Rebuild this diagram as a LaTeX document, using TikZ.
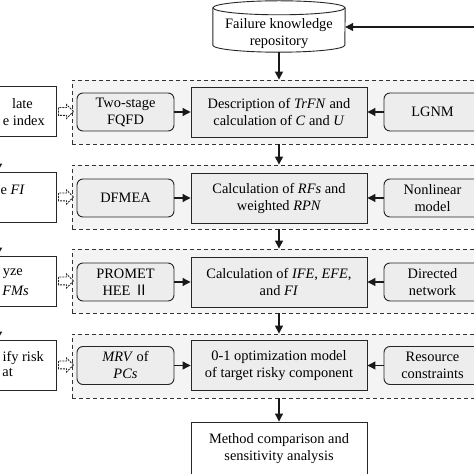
\documentclass[tikz,border=0pt]{standalone}
\usepackage{fontspec}
\setmainfont{Liberation Serif}
\newfontfamily\cjk{Noto Sans CJK SC}
\usetikzlibrary{arrows.meta,shapes.arrows}

\tikzset{
	stage/.style={draw=black!80, fill=gray!9, line width=0.8pt, dash pattern=on 4pt off 3pt, minimum width=414pt, minimum height=64pt},
	midbox/.style={draw=black!85, fill=gray!14, line width=0.9pt, minimum width=176pt, minimum height=50pt, align=center},
	sidebox/.style={draw=black!85, fill=gray!14, line width=0.9pt, rounded corners=6pt, minimum width=97pt, minimum height=38pt, align=center},
	leftbox/.style={draw=black!85, fill=white, line width=0.9pt, minimum width=116pt, minimum height=50pt},
	cyl/.style={draw=black!85, line width=0.9pt},
	flow/.style={-{Triangle[length=8pt,width=8pt]}, line width=1.1pt, black!90},
	hollow/.style={single arrow, draw=black!85, dash pattern=on 2pt off 1pt, line width=0.8pt, fill=white, minimum height=15pt, single arrow head extend=3pt, inner xsep=0pt, inner ysep=3.5pt},
	frag/.style={anchor=east, inner sep=0pt}
}

\begin{document}
\begin{tikzpicture}[x=1pt, y=1pt, font=\fontsize{14.4}{17}\selectfont]
		%%%%% START %%%%%
		\useasboundingbox (0,0) rectangle (474,474);
		\clip (0,0) rectangle (474,474);
		
		% repository
		\node[align=center, minimum width=132pt, minimum height=36pt, inner sep=0pt] (repo) at (279,440) {Failure knowledge\\repository};
		\draw[cyl] ([yshift=8pt]repo.north) ellipse [x radius=66pt, y radius=7pt];
		\draw[cyl] ([yshift=8pt]repo.north west) -- ([yshift=7pt]repo.south west) arc [start angle=180, end angle=360, x radius=66pt, y radius=7pt] -- ([yshift=8pt]repo.north east);
		\coordinate (feedback) at (480,447);
		
		% dashed stages
		\node[stage] (stage1) at (279,362) {};
		\node[stage] (stage2) at (279,277) {};
		\node[stage] (stage3) at (279,193) {};
		\node[stage] (stage4) at (279,108) {};
		
		\node[midbox] (desc) at (279,362) {Description of \textit{TrFN} and\\calculation of \textit{C} and \textit{U}};
		\node[midbox] (rfs) at (279,276) {Calculation of \textit{RFs} and\\weighted \textit{RPN}};
		\node[midbox] (ife) at (279,192) {Calculation of \textit{IFE}, \textit{EFE},\\and \textit{FI}};
		\node[midbox] (opt) at (279,108.5) {0-1 optimization model\\of target risky component};
		
		\node[sidebox] (fqfd) at (125.5,362) {Two-stage\\FQFD};
		\node[sidebox] (dfmea) at (125.5,276) {DFMEA};
		\node[sidebox] (promet) at (125.5,192) {PROMET\\HEE {\cjk Ⅱ}};
		\node[sidebox] (mrv) at (125.5,108.5) {\textit{MRV} of\\\textit{PCs}};
		
		\node[sidebox] (lgnm) at (432.5,362) {LGNM};
		\node[sidebox] (nonlin) at (432.5,276) {Nonlinear\\model};
		\node[sidebox] (network) at (432.5,192) {Directed\\network};
		\node[sidebox] (resource) at (432.5,108.5) {Resource\\constraints};
		
		\node[midbox, fill=white, minimum height=54pt] (compare) at (279,25) {Method comparison and\\sensitivity analysis};
		
		% left column
		\node[leftbox] (left1) at (-2,362.5) {};
		\node[leftbox] (left2) at (-2,277) {};
		\node[leftbox] (left3) at (-2,193) {};
		\node[leftbox] (left4) at (-2,109) {};
		\node[frag] (late) at (33,370) {late};
		\node[frag] (index) at (45,353) {e index};
		\node[frag] (fi) at (25,284) {e \textit{FI}};
		\node[frag] (yze) at (23,200) {yze};
		\node[frag] (fms) at (29,183) {\textit{FMs}};
		\node[frag] (risk) at (44,116) {ify risk};
		\node[frag] (at) at (13,101) {at};
		
		\node[hollow] (hollow1) at (64,362.5) {};
		\node[hollow] (hollow2) at (64,277) {};
		\node[hollow] (hollow3) at (64,193) {};
		\node[hollow] (hollow4) at (64,109) {};
		
		% connectors
		\draw[flow] (feedback) -- (feedback -| repo.east);
		\draw[flow] (repo) -- (stage1);
		\draw[flow] (stage1) -- (stage2);
		\draw[flow] (stage2) -- (stage3);
		\draw[flow] (stage3) -- (stage4);
		\draw[flow] (stage4) -- (compare);
		
		\draw[flow] (fqfd) -- (desc);
		\draw[flow] (lgnm) -- (desc);
		\draw[flow] (dfmea) -- (rfs);
		\draw[flow] (nonlin) -- (rfs);
		\draw[flow] (promet) -- (ife);
		\draw[flow] (network) -- (ife);
		\draw[flow] (mrv) -- (opt);
		\draw[flow] (resource) -- (opt);
		
		\draw[flow] (left1.south) -- (left2.north);
		\draw[flow] (left2.south) -- (left3.north);
		\draw[flow] (left3.south) -- (left4.north);
		%%%%% END %%%%%
\end{tikzpicture}
\end{document}
